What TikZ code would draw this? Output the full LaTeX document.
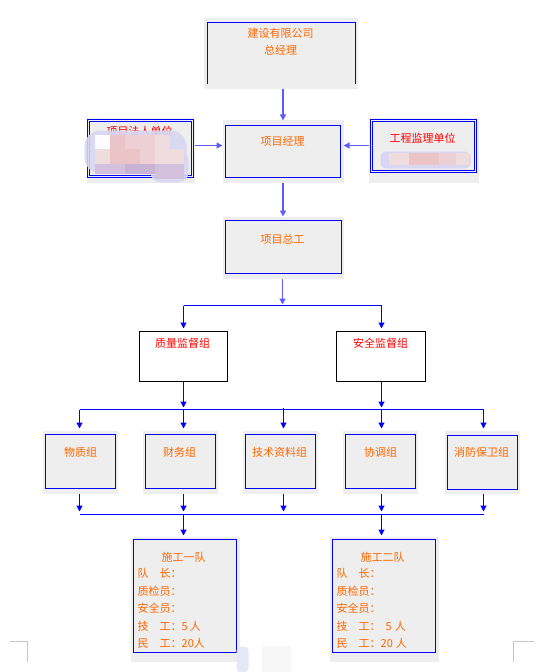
\documentclass[tikz,border=0pt]{standalone}
\usepackage{fontspec}
\newfontfamily\cjk{Noto Sans CJK SC}
\usetikzlibrary{arrows.meta}
\definecolor{bg}{HTML}{EEEEEE}
\definecolor{org}{HTML}{FF6600}
\definecolor{rd}{HTML}{FF0000}
\definecolor{bl}{HTML}{0000FF}
\definecolor{lbl}{HTML}{5C5CFF}
\definecolor{lav}{HTML}{D9D6F3}
\definecolor{pk1}{HTML}{EBC4C8}
\definecolor{pk2}{HTML}{ECD0D3}
\definecolor{pk3}{HTML}{EEDCDF}
\definecolor{pu1}{HTML}{D2C0DC}
\definecolor{pu2}{HTML}{C9B3D4}
\tikzset{
  graybox/.style={fill=bg, draw=none, inner sep=0pt, outer sep=0pt, anchor=north west},
  whitebox/.style={fill=white, draw=black, line width=1.1bp, inner sep=0pt, outer sep=0pt, anchor=north west},
  frame/.style={draw=bl, line width=1.1bp},
  otxt/.style={text=org, font=\cjk\fontsize{11bp}{17.5bp}\selectfont, inner sep=0pt},
  rtxt/.style={text=rd, font=\cjk\fontsize{11bp}{13bp}\selectfont, inner sep=0pt},
  conn/.style={draw=bl, line width=1.1bp},
  lconn/.style={draw=lbl, line width=1.3bp},
  arr/.style={conn, -{Triangle[length=6bp,width=6bp]}},
  larr/.style={lconn, -{Triangle[length=6bp,width=6bp]}},
  corner/.style={draw=gray!45, line width=1bp}
}
\begin{document}
\begin{tikzpicture}[x=1bp,y=-1bp]
\useasboundingbox (0,0) rectangle (546,672);
\begin{scope}[shift={(0.5,0.5)}]
% top box
\node[graybox, minimum width=154bp, minimum height=70bp] (top) at (203,18) {};
\draw[frame] ([shift={(4,66)}]top.north west) -- ++(0,-62) -- ++(148,0) -- ++(0,62);
\node[otxt] (topA) at (280,32.5) {建设有限公司};
\node[otxt] (topB) at (280,49.5) {总经理};

% project manager
\node[graybox, minimum width=121bp, minimum height=62bp] (pm) at (222,120) {};
\draw[frame] ([shift={(3,5)}]pm.north west) rectangle ([shift={(-3,-5)}]pm.south east);
\node[otxt] (pmT) at (282,141) {项目经理};

% left box
\node[graybox, minimum width=108bp, minimum height=64bp] (lft) at (86,118) {};
\draw[frame] (87,119) rectangle (193,177);
\draw[frame] (89,121) rectangle (191,175);
\node[rtxt] (lftT) at (139,131) {项目法人单位};
% blurred area
\fill[lav, opacity=0.9, rounded corners=16bp] (84,130) rectangle (186,173);
\fill[lav, opacity=0.9, rounded corners=10bp] (150,150) rectangle (188,182);
\fill[white!92!lav] (94,134) rectangle (109,148);
\fill[pk1] (109,134) rectangle (124,148);
\fill[pk2] (124,134) rectangle (139,148);
\fill[pk2] (139,134) rectangle (154,148);
\fill[pk3] (154,134) rectangle (169,148);
\fill[pk3] (94,148) rectangle (109,163);
\fill[pk1] (109,148) rectangle (124,163);
\fill[pk1] (124,148) rectangle (139,163);
\fill[pk2] (139,148) rectangle (154,163);
\fill[pk3] (154,148) rectangle (169,163);
\fill[pk3] (169,148) rectangle (183,163);
\fill[pu1] (94,163) rectangle (109,173);
\fill[pu1] (109,163) rectangle (124,173);
\fill[pu2] (124,163) rectangle (139,173);
\fill[pu2] (139,163) rectangle (154,173);
\fill[pu1] (154,163) rectangle (169,178);
\fill[pu1] (169,163) rectangle (183,178);

% right box
\node[graybox, minimum width=110bp, minimum height=64bp] (rgt) at (368,118) {};
\draw[frame] (370,119) rectangle (476,172);
\draw[frame] (372,121) rectangle (474,170);
\node[rtxt] (rgtT) at (422,138) {工程监理单位};
\fill[lav, rounded corners=6bp] (380,151) rectangle (470,168);
\fill[pk3] (388,152) rectangle (408,164);
\fill[pk1] (408,152) rectangle (438,164);
\fill[pk2] (438,152) rectangle (455,164);
\fill[pk3] (455,152) rectangle (468,164);

% chief engineer
\node[graybox, minimum width=121bp, minimum height=62bp] (zg) at (222,216) {};
\draw[frame] ([shift={(3,4)}]zg.north west) rectangle ([shift={(-2,-5)}]zg.south east);
\node[otxt] (zgT) at (282,239) {项目总工};

% supervision groups
\node[whitebox, minimum width=88bp, minimum height=50bp] (zl) at (139,331) {};
\node[rtxt] (zlT) at (182,343) {质量监督组};
\node[whitebox, minimum width=89bp, minimum height=50bp] (aq) at (336,331) {};
\node[rtxt] (aqT) at (380,343) {安全监督组};

% functional groups
\node[graybox, minimum width=75bp, minimum height=63bp] (g1) at (42,430) {};
\node[graybox, minimum width=75bp, minimum height=63bp] (g2) at (142,430) {};
\node[graybox, minimum width=75bp, minimum height=63bp] (g3) at (242,430) {};
\node[graybox, minimum width=75bp, minimum height=63bp] (g4) at (342,430) {};
\node[graybox, minimum width=75bp, minimum height=63bp] (g5) at (444,430) {};
\foreach \g in {g1,g2,g3,g4}{
  \draw[frame] ([shift={(3,4)}]\g.north west) rectangle ([shift={(-2,-5)}]\g.south east);
}
\draw[frame] ([shift={(3,5)}]g5.north west) rectangle ([shift={(-2,-4)}]g5.south east);
\node[otxt] (g1T) at (80,452) {物质组};
\node[otxt] (g2T) at (179,452) {财务组};
\node[otxt] (g3T) at (279,452) {技术资料组};
\node[otxt] (g4T) at (380,452) {协调组};
\node[otxt] (g5T) at (481,452) {消防保卫组};

% teams
\node[graybox, minimum width=109bp, minimum height=125bp] (t1) at (130,536) {};
\draw[frame] ([shift={(3,3)}]t1.north west) rectangle ([shift={(-3,-9)}]t1.south east);
\node[otxt] (t1T) at (183,557) {施工一队};
\node[otxt, align=left, anchor=west] (t1L) at (137,608)
  {队　长：\\质检员：\\安全员：\\技　工：5\hspace{2bp}人\\民　工：20人};
\node[graybox, minimum width=109bp, minimum height=125bp] (t2) at (329,536) {};
\draw[frame] ([shift={(3,3)}]t2.north west) rectangle ([shift={(-3,-9)}]t2.south east);
\node[otxt] (t2T) at (382,557) {施工二队};
\node[otxt, align=left, anchor=west] (t2L) at (336,608)
  {队　长：\\质检员：\\安全员：\\技　工：\hspace{5bp}5\hspace{3bp}人\\民　工：20\hspace{3bp}人};

% connectors (top part)
\draw[larr] (top.south -| pm.north) -- (pm.north);
\coordinate (la) at ([yshift=5bp]lft.east);
\draw[larr] (la) -- (la -| pm.west);
\coordinate (ra) at ([yshift=5bp]rgt.west);
\draw[larr] (ra) -- (ra -| pm.east);
\draw[larr] (pm.south) -- (zg.north);

% bar 1
\coordinate (b0) at (282,305);
\coordinate (b1) at (183,305);
\coordinate (b2) at (381,305);
\draw[larr, shorten >=1bp] (zg.south -| b0) -- (b0);
\draw[conn] (b1) -- (b2);
\draw[arr, shorten >=3bp] (b1) -- (b1 |- zl.north);
\draw[arr, shorten >=3bp] (b2) -- (b2 |- aq.north);

% bar 2
\coordinate (c1) at (79,409);
\coordinate (c2) at (183,409);
\coordinate (c3) at (283,409);
\coordinate (c4) at (381,409);
\coordinate (c5) at (483,409);
\draw[arr, shorten >=2bp] (zl.south -| c2) -- (c2);
\draw[arr, shorten >=2bp] (aq.south -| c4) -- (c4);
\draw[conn] (c1) -- (c5);
\draw[conn] (283,407) -- (c3);
\foreach \c/\g in {c1/g1,c2/g2,c3/g3,c4/g4,c5/g5}{
  \draw[arr, shorten >=2bp] (\c) -- (\c |- \g.north);
}

% bar 3
\coordinate (d1) at (79,514);
\coordinate (d2) at (183,514);
\coordinate (d3) at (283,514);
\coordinate (d4) at (381,514);
\coordinate (d5) at (483,514);
\foreach \d/\g in {d1/g1,d2/g2,d3/g3,d4/g4,d5/g5}{
  \draw[arr, shorten >=3bp] (\d |- \g.south) -- (\d);
}
\draw[conn] (d1) -- (d5);
\draw[arr, shorten >=1bp] (d2) -- (d2 |- t1.north);
\draw[arr, shorten >=1bp] (d4) -- (d4 |- t2.north);

% page corner marks
\draw[corner] (9,641) -- (27,641) -- (27,661);
\draw[corner] (533,641) -- (513,641) -- (513,661);

% faint marks at bottom
\fill[lav!60, rounded corners=4bp] (236,646) rectangle (248,672);
\fill[gray!6] (261,645) rectangle (290,671);
\end{scope}
\end{tikzpicture}
\end{document}
